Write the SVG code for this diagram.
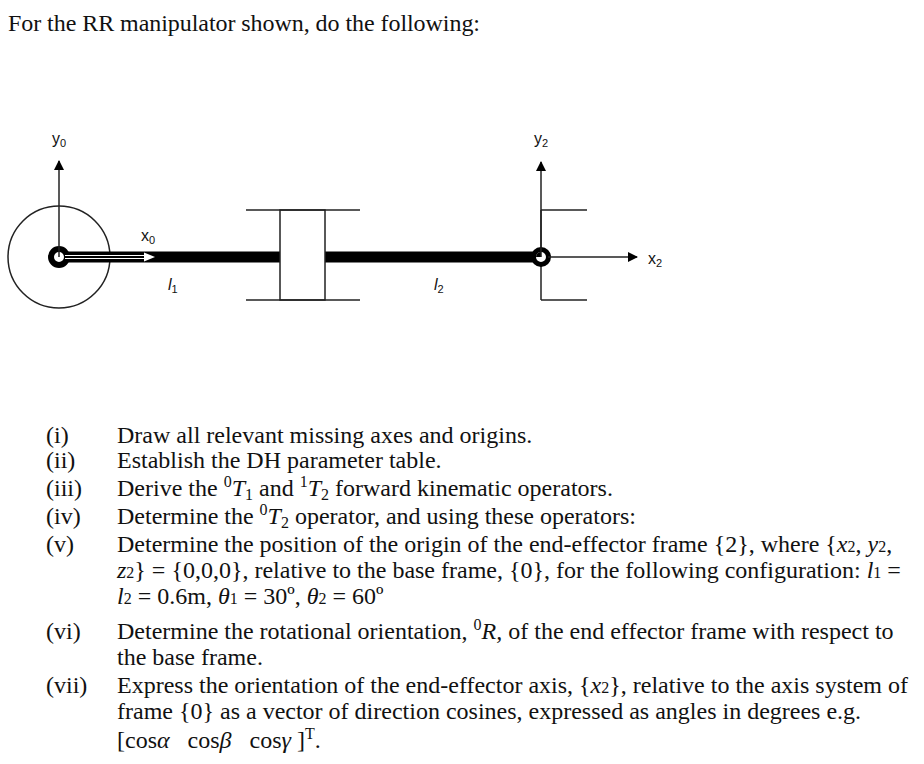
<svg xmlns="http://www.w3.org/2000/svg" width="924" height="764" viewBox="0 0 924 764">
<defs>
<marker id="ah" viewBox="0 0 10 10" refX="9" refY="5" markerWidth="10" markerHeight="10" markerUnits="userSpaceOnUse" orient="auto"><path d="M0,0L10,5L0,10z" fill="#000"/></marker>
</defs>
<style>
.t{font-family:"Liberation Serif",serif;font-size:24px;fill:#111}
.s{font-family:"Liberation Sans",sans-serif;font-size:16px;fill:#111}
.ln{stroke:#222;stroke-width:1.5;fill:none}
</style>
<rect width="924" height="764" fill="#fff"/>
<text class="t" x="8" y="31" textLength="472">For the RR manipulator shown, do the following:</text>
<g id="base"><circle cx="59" cy="257" r="51" class="ln"/></g>
<g id="link"><rect x="59" y="251.5" width="482" height="11" fill="#000"/></g>
<g id="joint1"><circle cx="59" cy="257" r="8" fill="#fff" stroke="#000" stroke-width="6"/></g>
<g id="joint2"><rect x="280" y="210" width="45" height="90" fill="#fff" stroke="#222" stroke-width="1.5"/>
<line x1="246" y1="210" x2="360" y2="210" class="ln"/><line x1="246" y1="300" x2="360" y2="300" class="ln"/></g>
<g id="gripper"><line x1="541" y1="210" x2="541" y2="300" class="ln"/><line x1="541" y1="210" x2="587" y2="210" class="ln"/><line x1="541" y1="300" x2="587" y2="300" class="ln"/>
<circle cx="541" cy="257" r="7.5" fill="#fff" stroke="#000" stroke-width="5"/><path d="M541,257 L541,252 A5,5 0 0 0 536,257z" fill="#000"/></g>
<g id="connectors">
<line x1="59" y1="257" x2="59" y2="161" class="ln" marker-end="url(#ah)"/>
<line x1="541" y1="257" x2="541" y2="162" class="ln" marker-end="url(#ah)"/>
<line x1="548" y1="257" x2="637" y2="257" class="ln" marker-end="url(#ah)"/>
<line x1="65" y1="255.5" x2="145" y2="255.5" stroke="#fff" stroke-width="1"/>
<line x1="65" y1="258.5" x2="145" y2="258.5" stroke="#fff" stroke-width="1"/>
<path d="M144,252.5 L155,257 L144,261.5z" fill="#fff"/>
</g>
<g id="labels">
<text class="s" x="52" y="144">y<tspan font-size="11" dy="3">0</tspan></text>
<text class="s" x="534" y="144">y<tspan font-size="11" dy="3">2</tspan></text>
<text class="s" x="141" y="241">x<tspan font-size="11" dy="3">0</tspan></text>
<text class="s" x="648" y="264">x<tspan font-size="11" dy="3">2</tspan></text>
<text class="s" x="168" y="290" font-style="italic">l<tspan font-size="11" dy="3" font-style="normal">1</tspan></text>
<text class="s" x="434" y="290" font-style="italic">l<tspan font-size="11" dy="3" font-style="normal">2</tspan></text>
</g>
<g id="text">
<text class="t" x="46" y="443">(i)</text><text class="t" x="117" y="443">Draw all relevant missing axes and origins.</text>
<text class="t" x="46" y="468">(ii)</text><text class="t" x="117" y="468">Establish the DH parameter table.</text>
<text class="t" x="46" y="496">(iii)</text><text class="t" x="117" y="496">Derive the <tspan font-size="16" dy="-9">0</tspan><tspan font-style="italic" dy="9">T</tspan><tspan font-size="16" dy="4">1</tspan><tspan dy="-4"> and </tspan><tspan font-size="16" dy="-9">1</tspan><tspan font-style="italic" dy="9">T</tspan><tspan font-size="16" dy="4">2</tspan><tspan dy="-4"> forward kinematic operators.</tspan></text>
<text class="t" x="46" y="524">(iv)</text><text class="t" x="117" y="524">Determine the <tspan font-size="16" dy="-9">0</tspan><tspan font-style="italic" dy="9">T</tspan><tspan font-size="16" dy="4">2</tspan><tspan dy="-4"> operator, and using these operators:</tspan></text>
<text class="t" x="46" y="552">(v)</text><text class="t" x="117" y="552">Determine the position of the origin of the end-effector frame {2}, where {<tspan font-style="italic">x</tspan><tspan font-size="16">2</tspan>, <tspan font-style="italic">y</tspan><tspan font-size="16">2</tspan>,</text>
<text class="t" x="117" y="578"><tspan font-style="italic">z</tspan><tspan font-size="16">2</tspan>} = {0,0,0}, relative to the base frame, {0}, for the following configuration: <tspan font-style="italic">l</tspan><tspan font-size="16">1</tspan> =</text>
<text class="t" x="117" y="604"><tspan font-style="italic">l</tspan><tspan font-size="16">2</tspan> = 0.6m, <tspan font-style="italic">θ</tspan><tspan font-size="16">1</tspan> = 30º, <tspan font-style="italic">θ</tspan><tspan font-size="16">2</tspan> = 60º</text>
<text class="t" x="46" y="639">(vi)</text><text class="t" x="117" y="639">Determine the rotational orientation, <tspan font-size="16" dy="-9">0</tspan><tspan font-style="italic" dy="9">R,</tspan> of the end effector frame with respect to</text>
<text class="t" x="117" y="665">the base frame.</text>
<text class="t" x="46" y="693">(vii)</text><text class="t" x="117" y="693">Express the orientation of the end-effector axis, {<tspan font-style="italic">x</tspan><tspan font-size="16">2</tspan>}, relative to the axis system of</text>
<text class="t" x="117" y="719">frame {0} as a vector of direction cosines, expressed as angles in degrees e.g.</text>
<text class="t" x="117" y="748">[cos<tspan font-style="italic">α</tspan>&#160;&#160; cos<tspan font-style="italic">β</tspan>&#160;&#160; cos<tspan font-style="italic">γ</tspan>&#160;]<tspan font-size="16" dy="-9">T</tspan><tspan dy="9">.</tspan></text>
</g>
</svg>
